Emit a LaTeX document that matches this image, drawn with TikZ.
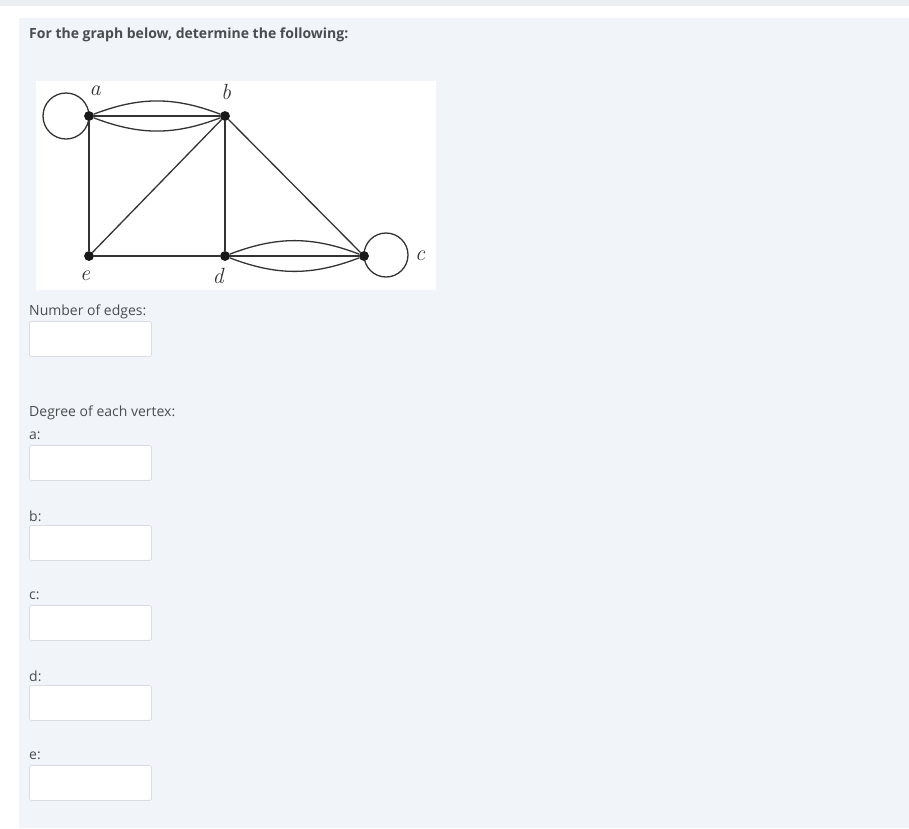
\documentclass[tikz,border=0pt]{standalone}
\usepackage{fontspec}
\setsansfont{Open Sans}
\definecolor{panel}{HTML}{F1F5F9}
\definecolor{topbar}{HTML}{ECEFF1}
\definecolor{txt}{HTML}{4A4D50}
\definecolor{boxline}{HTML}{DADDE0}
\definecolor{edgec}{HTML}{333333}
\begin{document}
\begin{tikzpicture}[x=1pt,y=-1pt,
  vtx/.style={circle,fill=black!90,inner sep=0pt,minimum size=9.5pt},
  edg/.style={draw=edgec,line width=1.3pt},
  vlabel/.style={font=\fontsize{22}{24}\selectfont\itshape,text=edgec,inner sep=0pt},
  qtext/.style={font=\sffamily\fontsize{14}{16}\selectfont,text=txt,anchor=west,inner sep=0pt},
  ansbox/.style={draw=boxline,fill=white,rounded corners=2pt,line width=0.8pt,minimum width=122pt,minimum height=35pt,anchor=north west,inner sep=0pt}]
\useasboundingbox (0,0) rectangle (909,828);
\fill[white] (0,0) rectangle (909,828);
\fill[topbar] (0,0) rectangle (909,6);
\fill[panel] (19,18) rectangle (909,828);
\fill[white] (36,81) rectangle (436,290);
% title
\node[qtext,font=\sffamily\bfseries\fontsize{14}{16}\selectfont] (title) at (29,35) {For the graph below, determine the following:};
% graph
\node[vtx] (a) at (89,116) {};
\node[vtx] (b) at (225,116) {};
\node[vtx] (e) at (89,256) {};
\node[vtx] (d) at (225,256) {};
\node[vtx] (c) at (364,256) {};
\node[vlabel] (la) at (95,91) {a};
\node[vlabel] (lb) at (226,92) {b};
\node[vlabel] (le) at (85,276) {e};
\node[vlabel] (ld) at (218,276) {d};
\node[vlabel] (lc) at (420,256) {c};
\coordinate (ca) at (66,116);
\coordinate (cc) at (386,255);
\draw[edg] (ca) circle (23);
\draw[edg] (cc) circle (22);
\draw[edg] (a) -- (b);
\draw[edg] (a) to[bend left=21] (b);
\draw[edg] (a) to[bend right=21] (b);
\draw[edg] (a) -- (e);
\draw[edg] (e) -- (b);
\draw[edg] (b) -- (d);
\draw[edg] (b) -- (c);
\draw[edg] (e) -- (d);
\draw[edg] (d) -- (c);
\draw[edg] (d) to[bend left=21] (c);
\draw[edg] (d) to[bend right=21] (c);
\node[vtx] at (a) {};
\node[vtx] at (b) {};
\node[vtx] at (e) {};
\node[vtx] at (d) {};
\node[vtx] at (c) {};
% questions
\node[qtext] (q1) at (29,312) {Number of edges:};
\node[ansbox] (box1) at (29,321) {};
\node[qtext] (q2) at (29,413) {Degree of each vertex:};
\node[qtext] (qa) at (29,436) {a:};
\node[ansbox] (boxa) at (29,445) {};
\node[qtext] (qb) at (29,516) {b:};
\node[ansbox] (boxb) at (29,525) {};
\node[qtext] (qc) at (29,596) {c:};
\node[ansbox] (boxc) at (29,605) {};
\node[qtext] (qd) at (29,676) {d:};
\node[ansbox] (boxd) at (29,685) {};
\node[qtext] (qe) at (29,756) {e:};
\node[ansbox] (boxe) at (29,765) {};
\end{tikzpicture}
\end{document}
